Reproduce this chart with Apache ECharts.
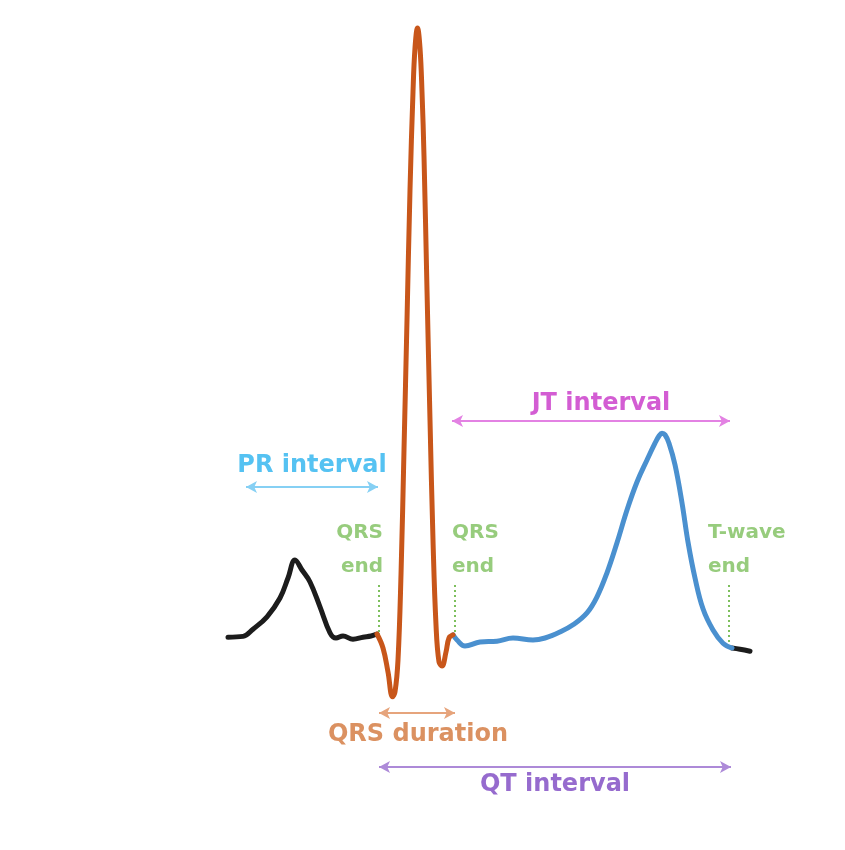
<!DOCTYPE html>
<html>
<head>
<meta charset="utf-8">
<script src="https://cdn.jsdelivr.net/npm/echarts@6/dist/echarts.min.js"></script>
<style>html,body{margin:0;padding:0;background:#fff}#c{width:845px;height:850px}</style>
</head>
<body>
<div id="c"></div>
<script>
// time in ms, amplitude in mV
const pWaveT = [28,43,53,67,80,88,95,102,110,120,130,136,143,153,163,171,177];
const pWaveV = [-0.003,-0.001,0.017,0.048,0.095,0.145,0.19,0.165,0.135,0.073,0.008,-0.005,0,-0.008,-0.003,0,0.005];
const qrsT = [177,183,188,192.5,195,198,201,204,207,210,213,215,217.5,220,222,224,227,230,233,236,239,242,246,249,253];
const qrsV = [0.005,-0.03,-0.09,-0.152,-0.14,-0.06,0.153,0.465,0.79,1.115,1.36,1.47,1.52,1.47,1.36,1.2,0.865,0.54,0.24,0.028,-0.065,-0.075,-0.04,-0.005,0.003];
const stT = [253,257,265,280,297,313,333,345,360,373,387,397,407,417,427,437,447,455,459,462,465,469,475,482,488,495,503,513,523,532];
const stV = [0.003,-0.01,-0.025,-0.015,-0.013,-0.005,-0.01,-0.005,0.01,0.028,0.058,0.098,0.158,0.233,0.315,0.385,0.44,0.482,0.5,0.507,0.503,0.482,0.428,0.333,0.235,0.145,0.068,0.015,-0.018,-0.03];
const tailT = [532,540,550];
const tailV = [-0.03,-0.033,-0.038];

// interval annotations: [label, start, end, level]
const intervals = [
  ['PR interval', 46, 178, 0.3725],
  ['JT interval', 252, 530, 0.5375],
  ['QRS duration', 179, 255, -0.1925],
  ['QT interval', 179, 531, -0.3275]
];
// marker lines: [label, time, top, bottom]
const markers = [
  ['QRS\nend', 179, 0.1275, 0.01],
  ['QRS\nend', 255, 0.1275, 0.01],
  ['T-wave\nend', 529, 0.1275, -0.02]
];

const zip = (a, b) => a.map((x, i) => [x, b[i]]);
const font = '"DejaVu Sans", sans-serif';

const arrowColors = ['#86d0f4', '#e382e3', '#e6a47c', '#ad8ad8'];
const textColors = ['#2ab3ef', '#c834c8', '#d2753a', '#7c46c2'];
const textOffsets = [[112, 0.425], [401, 0.58], [218, -0.2475], [355, -0.3725]];

const markerText = [
  {t: 183, v: 0.215, align: 'right'},
  {t: 252, v: 0.215, align: 'left'},
  {t: 508, v: 0.215, align: 'left'}
];

const wave = (data, color) => ({
  type: 'line', data, showSymbol: false, smooth: 0.4, silent: true,
  lineStyle: {color, width: 5, cap: 'round', join: 'round'}
});

const option = {
  animation: false,
  backgroundColor: '#ffffff',
  grid: {left: 200, right: 45, top: 16, bottom: 14},
  xAxis: {type: 'value', min: 0, max: 600, show: false},
  yAxis: {type: 'value', min: -0.5, max: 1.55, show: false},
  series: [
    wave(zip(pWaveT, pWaveV), '#1c1c1c'),
    wave(zip(tailT, tailV), '#1c1c1c'),
    wave(zip(stT, stV), '#4a90cf'),
    wave(zip(qrsT, qrsV), '#c8561a'),
    {
      type: 'line', data: [], silent: true,
      markLine: {
        silent: true, symbol: ['arrow', 'arrow'], symbolSize: [9, 11],
        label: {show: false},
        data: intervals.map((d, i) => [
          {coord: [d[1], d[3]], lineStyle: {color: arrowColors[i], width: 2, type: 'solid'}},
          {coord: [d[2], d[3]]}
        ])
      }
    },
    {
      type: 'line', data: [], silent: true,
      markLine: {
        silent: true, symbol: ['none', 'none'],
        label: {show: false},
        lineStyle: {color: '#7dbf5c', width: 2, type: [2, 3]},
        data: markers.map(d => [{coord: [d[1], d[2]]}, {coord: [d[1], d[3]]}])
      }
    },
    {
      type: 'scatter', symbolSize: 0, silent: true,
      data: intervals.map((d, i) => ({
        value: textOffsets[i],
        label: {
          show: true, position: 'inside', formatter: d[0],
          color: textColors[i], fontFamily: font, fontWeight: 'bold', fontSize: 24
        }
      })).concat(markers.map((d, i) => ({
        value: [markerText[i].t, markerText[i].v],
        label: {
          show: true, position: 'inside', formatter: d[0], align: markerText[i].align,
          color: '#7dbf5c', fontFamily: font, fontWeight: 'bold', fontSize: 20, lineHeight: 34
        }
      })))
    }
  ]
};
echarts.init(document.getElementById('c')).setOption(option);
</script>
</body>
</html>
